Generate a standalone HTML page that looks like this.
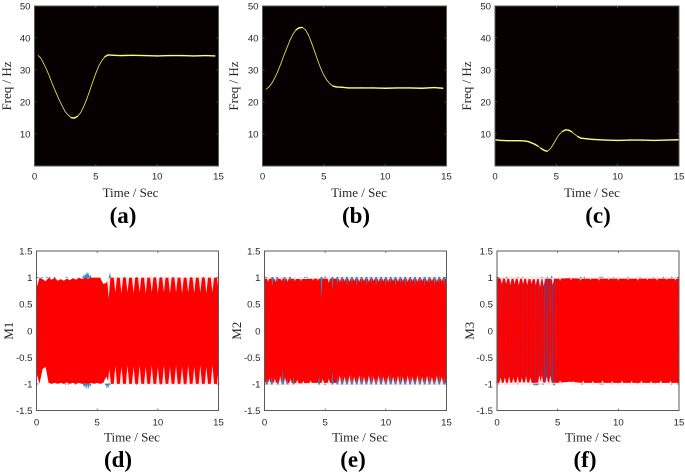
<!DOCTYPE html>
<html>
<head>
<meta charset="utf-8">
<title>Frequency and modulation panels</title>
<style>
html,body{margin:0;padding:0;background:#fff;width:685px;height:472px;overflow:hidden}
svg{display:block;filter:blur(0.3px)}
.tick{font-family:"Liberation Sans",sans-serif;font-size:9.6px;fill:#262626}
.lab{font-family:"Liberation Serif",serif;font-size:13px;fill:#262626}
.cap{font-family:"Liberation Serif",serif;font-size:23px;font-weight:bold;fill:#000}
</style>
</head>
<body>
<svg id="fig" xmlns="http://www.w3.org/2000/svg" width="685" height="472" viewBox="0 0 685 472">
<defs>
<linearGradient id="streakGrad" gradientUnits="userSpaceOnUse" x1="0" y1="277" x2="0" y2="384">
<stop offset="0" stop-color="#2a5fa8" stop-opacity="1"/>
<stop offset="0.5" stop-color="#2a5fa8" stop-opacity="0.55"/>
<stop offset="1" stop-color="#2a5fa8" stop-opacity="1"/>
</linearGradient>
</defs>
</svg>
<script>
// ---------- frequency panels ----------
const freqTicksX = [0, 5, 10, 15];
const freqTicksY = [10, 20, 30, 40, 50];
const modTicksY = [-1.5, -1, -0.5, 0, 0.5, 1, 1.5];
const modTickLabels = ['-1.5', '-1', '-0.5', '0', '0.5', '1', '1.5'];

const freqATime = [.3,.5,.75,1,1.25,1.5,1.75,2,2.25,2.5,2.75,3,3.25,3.5,3.75,4,4.25,4.5,4.75,5,5.25,5.5,5.75,6,6.5,7,8,9,10,11,12,13,14,14.7];
const freqAValues = [34.5,33.8,32,30,27.7,25.2,23,20.8,18.8,17,15.9,15.1,15,15.5,16.6,18.5,20.8,23.5,26.3,29,31.3,33,34.2,34.7,34.6,34.5,34.6,34.5,34.4,34.5,34.5,34.4,34.5,34.4];
const freqBTime = [.3,.5,.75,1,1.25,1.5,1.75,2,2.25,2.5,2.75,3,3.25,3.5,3.75,4,4.25,4.5,4.75,5,5.25,5.5,5.75,6,6.5,7,8,9,10,11,12,13,14,14.7];
const freqBValues = [24,24.6,25.8,27.5,29.6,32,34.6,37,39.4,41.3,42.6,43.2,43.3,42.6,40.9,38.5,35.8,33,30.5,28.4,26.8,25.7,25,24.7,24.6,24.4,24.4,24.4,24.3,24.4,24.4,24.3,24.5,24.3];
const freqCTime = [0,.5,1,1.5,2,2.5,2.75,3,3.25,3.5,3.75,4,4.25,4.5,4.75,5,5.25,5.5,5.75,6,6.25,6.5,6.75,7,7.5,8,9,10,11,12,13,14,15];
const freqCValues = [8.2,8,7.9,7.9,7.9,7.8,7.6,7.2,6.8,6.2,5.5,4.9,4.6,5.3,6.8,8.5,9.9,10.8,11.3,11.2,10.7,9.9,9.2,8.7,8.5,8.3,8.1,8,8.1,8.1,8,8.1,8.2];

// ---------- modulation panels ----------
const m1Time = [0,.25,.5,.75,1,1.25,1.5,1.75,2,2.25,2.5,2.75,3,3.25,3.5,3.75,4,4.25,4.5,4.75,5,5.25,5.5,5.75,6,15];
const m1Upper = [.8,1,.97,.93,1,.96,1,.94,.97,.94,.98,.95,.99,.96,1,.97,1,.98,1,1,1,1,.88,.9,1,1];
const m1Lower = [-.8,-1,-.72,-.68,-.98,-1,-.98,-1,-.98,-1,-.97,-1,-.98,-1,-.98,-1,-.99,-1,-.98,-1,-.98,-1,-.98,-.86,-1,-1];
const m1TopNotchT = [5.95,6.5,7,7.5,8,8.5,9,9.5,10,10.5,11,11.5,12,12.5,13,13.5,14,14.5,15];
const m1TopNotchV = [.6,.72,.7,.72,.7,.72,.7,.72,.7,.72,.7,.72,.7,.72,.7,.72,.7,.72,.78];
const m1BotNotchT = [6,6.5,7,7.5,8,8.5,9,9.5,10,10.5,11,11.5,12,12.5,13,13.5,14,14.5,15];
const m1BotNotchV = [-.72,-.66,-.68,-.65,-.68,-.65,-.68,-.65,-.68,-.65,-.68,-.65,-.68,-.65,-.68,-.65,-.68,-.65,-.75];
const m1TopSpikeT = [.45,.85,1.1,1.5,2.5,3.85,4,4.1,4.2,4.3,4.45,6.05,7.25,8.25,9.75,10.25,11.25,12.75,13.75];
const m1TopSpikeV = [1.02,1.02,1.02,1.02,1.02,1.05,1.08,1.1,1.11,1.1,1.05,1.09,1.02,1.02,1.02,1.02,1.02,1.02,1.02];
const m1BotSpikeT = [2.4,2.6,3.2,3.9,4,4.15,4.3,4.45,5.7,5.8,5.9,6.05,8.25,10.25,12.25];
const m1BotSpikeV = [-1.02,-1.02,-1.02,-1.05,-1.09,-1.11,-1.1,-1.05,-1.03,-1.08,-1.09,-1.03,-1.02,-1.02,-1.02];
const m1Streaks = [];
const m1StreakAlpha = [];

const m2Time = [0,1,2,3,4,5,6,7,8,9,10,11,12,13,14,15];
const m2Upper = [.98,.98,.98,.97,.98,.98,.98,.98,.98,.98,.98,.98,.98,.98,.98,.98];
const m2Lower = [-.97,-.98,-.98,-.99,-.98,-.98,-.98,-.98,-.98,-.98,-.98,-.98,-.98,-.98,-.98,-.98];
const m2TopNotchT = [.3,.9,1.4,1.9,2.5,3,4,4.4,5.3,6.2,6.6,7,7.4,7.8,8.2,8.6,9,9.4,9.8,10.2,10.6,11,11.4,11.8,12.2,12.6,13,13.4,13.8,14.2,14.6];
const m2TopNotchV = [.92,.92,.93,.92,.93,.93,.94,.94,.9,.92,.93,.92,.93,.92,.93,.92,.93,.92,.93,.92,.93,.92,.93,.92,.93,.92,.93,.92,.93,.92,.93];
const m2BotNotchT = [.4,.85,1.3,1.7,2.15,2.7,3.2,3.8,4.8,5.3,6.2,6.6,7,7.4,7.8,8.2,8.6,9,9.4,9.8,10.2,10.6,11,11.4,11.8,12.2,12.6,13,13.4,13.8,14.2,14.6];
const m2BotNotchV = [-.9,-.9,-.85,-.88,-.9,-.92,-.94,-.93,-.9,-.9,-.84,-.86,-.84,-.86,-.84,-.86,-.84,-.86,-.84,-.86,-.84,-.86,-.84,-.86,-.84,-.86,-.84,-.86,-.84,-.86,-.84,-.86];
const m2TopSpikeT = [.65,1.05,1.65,2.1,3.3,3.5,4.7,5,5.6,6,6.4,6.8,7.2,7.6,8,8.4,8.8,9.2,9.6,10,10.4,10.8,11.2,11.6,12,12.4,12.8,13.2,13.6,14,14.4,14.8];
const m2TopSpikeV = [.83,.9,.9,.92,1.02,1.02,.6,1.03,.78,.86,.88,.84,.88,.84,.88,.84,.88,.84,.88,.84,.88,.84,.88,.84,.88,.84,.88,.84,.88,.84,.88,.84];
const m2BotSpikeT = [.2,.6,1.1,1.5,1.9,2.4,4.5,5,5.6,6,6.4,6.8,7.2,7.6,8,8.4,8.8,9.2,9.6,10,10.4,10.8,11.2,11.6,12,12.4,12.8,13.2,13.6,14,14.4,14.8];
const m2BotSpikeV = [-.88,-.85,-.92,-.72,-.9,-.85,-.85,-1.03,-.76,-.86,-.82,-.88,-.82,-.88,-.82,-.88,-.82,-.88,-.82,-.88,-.82,-.88,-.82,-.88,-.82,-.88,-.82,-.88,-.82,-.88,-.82,-.85];
const m2Streaks = [];
const m2StreakAlpha = [];

const m3Time = [0,1,2,3,4,5,6,7,8,9,10,11,12,13,14,15];
const m3Upper = [.99,.98,.98,.97,.98,.98,.99,.98,.98,.98,.98,.98,.98,.98,.98,.98];
const m3Lower = [-.98,-.98,-.97,-.98,-.97,-.98,-.96,-.98,-.98,-.98,-.98,-.98,-.98,-.98,-.98,-.98];
const m3TopNotchT = [.4,.75,1.1,1.45,1.8,2.15,2.5,2.85,3.2,3.55,3.85,4.6,5.2,6.1,6.9,7.7,8.4,9.2,10,10.8,11.6,12.4,13.2,14,14.7];
const m3TopNotchV = [.88,.88,.86,.88,.86,.88,.86,.88,.86,.82,.84,.86,.94,.95,.94,.95,.94,.95,.94,.95,.94,.95,.94,.95,.94];
const m3BotNotchT = [.3,.65,1,1.35,1.7,2.05,2.4,2.75,3.5,3.7,4.1,4.4,5.2,6.3,7.1,7.9,8.7,9.5,10.3,11.1,11.9,12.7,13.5,14.3];
const m3BotNotchV = [-.88,-.88,-.86,-.88,-.86,-.88,-.86,-.88,-.84,-.84,-.86,-.84,-.93,-.94,-.93,-.94,-.93,-.94,-.93,-.94,-.93,-.94,-.93,-.94];
const m3TopSpikeT = [0,.8,1.7,2.1,3.7,4.15,4.5,6.9,7.2,8.5,8.7,9.6,10.8,11.8,12.9,13.7,14.4];
const m3TopSpikeV = [1.02,1.02,1.01,1.01,1.01,1.02,1.04,1.02,1.02,1.02,1.02,1.01,1.01,1.01,1.01,1.02,1.02];
const m3BotSpikeT = [.8,1.7,3,3.1,3.2,3.3,3.4,3.8,4.65,4.75,7,8.5,8.7,10,11.6,13,14.4];
const m3BotSpikeV = [-1.01,-1.01,-1.02,-1.03,-1.04,-1.04,-1.02,-1.02,-1.03,-1.03,-1.02,-1.02,-1.02,-1.01,-1.01,-1.01,-1.02];
const m3Streaks = [0,.35,.7,1.05,1.4,1.75,2.1,2.45,2.8,3.15,3.45,3.72,3.92,4.14,4.38,4.6,4.85,5.15];
const m3StreakAlpha = [.8,.25,.25,.25,.25,.25,.25,.28,.28,.32,.36,.45,.8,.65,.8,.8,.35,.15];

const svg = document.getElementById('fig');
const NS = 'http://www.w3.org/2000/svg';

function mk(tag, attrs, parent) {
  const el = document.createElementNS(NS, tag);
  for (const k in attrs) el.setAttribute(k, attrs[k]);
  (parent || svg).appendChild(el);
  return el;
}

function addText(cls, x, y, str, anchor, name, parent, rot) {
  const el = mk('text', {class: cls, x: x, y: y, 'text-anchor': anchor}, parent);
  if (rot) el.setAttribute('transform', 'rotate(-90 ' + x + ' ' + y + ')');
  el.textContent = str;
  
  
  return el;
}

function axes(key, box, yMin, yMax, bg, yTicks, yLabels, yLabel, labelX, timeX, timeY, cap, capX, capY, xTickY) {
  const g = mk('g', {});
  
  
  const sx = t => box.x0 + (t / 15) * (box.x1 - box.x0);
  const sy = v => box.y1 - ((v - yMin) / (yMax - yMin)) * (box.y1 - box.y0);
  const bgRect = mk('rect', {x: box.x0, y: box.y0, width: box.x1 - box.x0, height: box.y1 - box.y0, fill: bg}, g);
  
  
  return {g, sx, sy, finish() {
    const frame = mk('rect', {x: box.x0, y: box.y0, width: box.x1 - box.x0, height: box.y1 - box.y0, fill: 'none', stroke: '#5a5a5a', 'stroke-width': 1}, g);
    
    
    freqTicksX.forEach(t => {
      mk('path', {d: 'M' + sx(t) + ' ' + box.y1 + 'v-2M' + sx(t) + ' ' + box.y0 + 'v2', stroke: '#5a5a5a', 'stroke-width': .8, fill: 'none'}, g);
      addText('tick', sx(t), xTickY, String(t), 'middle', 'x-tick-' + key, g);
    });
    yTicks.forEach((v, i) => {
      mk('path', {d: 'M' + box.x0 + ' ' + sy(v) + 'h2M' + box.x1 + ' ' + sy(v) + 'h-2', stroke: '#5a5a5a', 'stroke-width': .8, fill: 'none'}, g);
      addText('tick', box.x0 - 4, sy(v) + 3.5, yLabels[i], 'end', 'y-tick-' + key, g);
    });
    addText('lab', labelX, (box.y0 + box.y1) / 2, yLabel, 'middle', 'y-axis-title-' + key, g, true);
    addText('lab', timeX, timeY, 'Time / Sec', 'middle', 'x-axis-title-' + key, g);
    addText('cap', capX, capY, cap, 'middle', 'panel-caption-' + key, g);
  }};
}

function freqPanel(key, box, time, vals, labelX, timeX, cap, capX) {
  const ax = axes(key, box, 0, 50, '#060001', freqTicksY, freqTicksY.map(String), 'Freq / Hz', labelX, timeX, 197, cap, capX, 223, 179.5);
  for (let i = 0; i < time.length - 1; i++) {
    const slope = Math.abs((vals[i + 1] - vals[i]) / (time[i + 1] - time[i]));
    const flat = slope < 2.5;
    const seg = mk('line', {
      x1: ax.sx(time[i]), y1: ax.sy(vals[i]), x2: ax.sx(time[i + 1]), y2: ax.sy(vals[i + 1]),
      stroke: flat ? '#ffff70' : '#e8e24c', 'stroke-width': flat ? 1.4 : .85, 'stroke-linecap': 'round'
    }, ax.g);
    
    
  }
  ax.finish();
}

function spike(ax, t, base, v, halfPx, fill, name) {
  const x = ax.sx(t);
  const yb = ax.sy(base);
  const yv = ax.sy(v);
  const s = mk('path', {d: 'M' + (x - halfPx) + ' ' + yb + 'L' + (x + halfPx) + ' ' + yb + 'L' + x + ' ' + yv + 'Z', fill: fill}, ax.g);
  
  
}

function modPanel(key, box, time, upper, lower, topNT, topNV, botNT, botNV, topT, topV, botT, botV, streakT, streakA, yLabel, labelX, timeX, cap, capX) {
  const ax = axes(key, box, -1.5, 1.5, '#fff', modTicksY, modTickLabels, yLabel, labelX, timeX, 441.5, cap, capX, 467, 425.5);
  let d = '';
  time.forEach((t, i) => { d += (i ? 'L' : 'M') + ax.sx(t).toFixed(2) + ' ' + ax.sy(upper[i]).toFixed(2); });
  for (let i = time.length - 1; i >= 0; i--) { d += 'L' + ax.sx(time[i]).toFixed(2) + ' ' + ax.sy(lower[i]).toFixed(2); }
  const band = mk('path', {d: d + 'Z', fill: '#ff0000'}, ax.g);
  
  
  streakT.forEach((t, i) => {
    const s = mk('rect', {x: ax.sx(t) - .6, width: 1.2, y: ax.sy(.98), height: ax.sy(-.98) - ax.sy(.98), fill: 'url(#streakGrad)', opacity: streakA[i]}, ax.g);
    
    
  });
  topNT.forEach((t, i) => spike(ax, t, 1.02, topNV[i], 1.8, '#ffe4e4', 'signal-notch-top-' + key));
  botNT.forEach((t, i) => spike(ax, t, -1.02, botNV[i], 1.8, '#ffe4e4', 'signal-notch-bottom-' + key));
  topT.forEach((t, i) => spike(ax, t, topV[i] > 1 ? .995 : 1.01, topV[i], 1.1, '#2f86c4', 'blue-signal-top-' + key));
  botT.forEach((t, i) => spike(ax, t, botV[i] < -1 ? -.995 : -1.01, botV[i], 1.1, '#2f86c4', 'blue-signal-bottom-' + key));
  ax.finish();
}

freqPanel('a', {x0: 34.5, x1: 218.5, y0: 6, y1: 166}, freqATime, freqAValues, 11, 130.5, '(a)', 123);
freqPanel('b', {x0: 262.5, x1: 446.5, y0: 6, y1: 166}, freqBTime, freqBValues, 238, 359, '(b)', 356);
freqPanel('c', {x0: 495, x1: 679, y0: 6, y1: 166}, freqCTime, freqCValues, 471, 592, '(c)', 598);
modPanel('d', {x0: 36.5, x1: 218.5, y0: 251, y1: 410.5}, m1Time, m1Upper, m1Lower, m1TopNotchT, m1TopNotchV, m1BotNotchT, m1BotNotchV, m1TopSpikeT, m1TopSpikeV, m1BotSpikeT, m1BotSpikeV, m1Streaks, m1StreakAlpha, 'M1', 13, 132, '(d)', 118);
modPanel('e', {x0: 264.5, x1: 446.5, y0: 251, y1: 410.5}, m2Time, m2Upper, m2Lower, m2TopNotchT, m2TopNotchV, m2BotNotchT, m2BotNotchV, m2TopSpikeT, m2TopSpikeV, m2BotSpikeT, m2BotSpikeV, m2Streaks, m2StreakAlpha, 'M2', 241, 360, '(e)', 353);
modPanel('f', {x0: 497, x1: 679, y0: 251, y1: 410.5}, m3Time, m3Upper, m3Lower, m3TopNotchT, m3TopNotchV, m3BotNotchT, m3BotNotchV, m3TopSpikeT, m3TopSpikeV, m3BotSpikeT, m3BotSpikeV, m3Streaks, m3StreakAlpha, 'M3', 474, 593, '(f)', 585);
</script>
</body>
</html>
